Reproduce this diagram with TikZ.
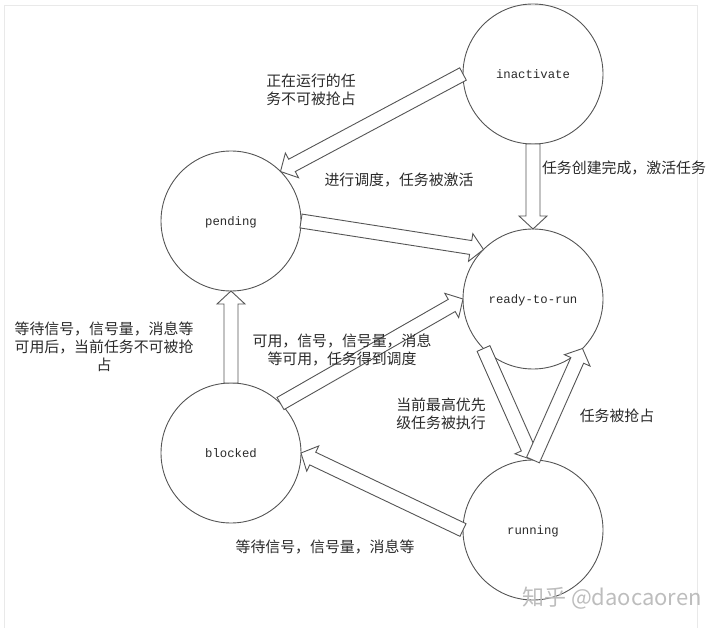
\documentclass[tikz,border=0pt]{standalone}
\usepackage{fontspec}
\setmainfont{Noto Sans CJK SC}
\newfontfamily\labelmono{Liberation Mono}
\usetikzlibrary{matrix,calc}
\definecolor{linecol}{HTML}{555555}
\definecolor{textcol}{HTML}{2A2A2A}
\definecolor{framecol}{HTML}{E9E9E9}
\definecolor{markcol}{HTML}{BDBDBD}
\tikzset{
  st/.style={circle, draw=linecol, line width=0.9pt, minimum size=140pt, inner sep=0pt, outer sep=0pt, at=#1},
  tx/.style={text=textcol, font=\fontsize{14.9}{18}\selectfont, align=center, inner sep=0pt},
  ar/.style={draw=linecol, line width=0.9pt, fill=white, to path={
    -- ($(\tikztostart)!7pt!90:(\tikztotarget)$)
    -- ($(\tikztotarget)!13pt!(\tikztostart)!7pt!90:(\tikztotarget)$)
    -- ($(\tikztotarget)!13pt!(\tikztostart)!14pt!90:(\tikztotarget)$)
    -- (\tikztotarget)
    -- ($(\tikztotarget)!13pt!(\tikztostart)!14pt!-90:(\tikztotarget)$)
    -- ($(\tikztotarget)!13pt!(\tikztostart)!7pt!-90:(\tikztotarget)$)
    -- ($(\tikztostart)!7pt!-90:(\tikztotarget)$)
    -- cycle}}
}
\begin{document}
\begin{tikzpicture}[x=1pt, y=-1pt]
  \useasboundingbox (0,0) rectangle (720,628);
  \draw[framecol, line width=0.8pt] (4,628) |- (697,5) -- (697,628);
  \matrix[matrix of nodes, row sep=0pt, column sep=212pt, inner sep=0pt, at={(382,302)},
    nodes={font=\labelmono\fontsize{12.3}{14}\selectfont, text=textcol, text width=90pt, align=center,
      text height=10.5pt, text depth=1.5pt, inner sep=0pt}] (mx) {
    & inactivate \\[135pt]
    pending & \\[66pt]
    & ready-to-run \\[142pt]
    blocked & \\[65pt]
    & running \\
  };
  \node[st=(mx-1-2)] (inactivate) {};
  \node[st=(mx-2-1)] (pending) {};
  \node[st=(mx-3-2)] (ready) {};
  \node[st=(mx-4-1)] (blocked) {};
  \node[st=(mx-5-2)] (running) {};
  \draw[ar] (inactivate.180) to (pending.45);
  \draw[ar] (inactivate.270) to (ready.90);
  \draw[ar] (pending.0) to (ready.135);
  \draw[ar] (blocked.90) to (pending.270);
  \draw[ar] (blocked.45) to (ready.180);
  \draw[ar] (running.180) to (blocked.0);
  \draw[ar] (ready.225) to (running.90);
  \draw[ar] (running.90) to (ready.315);
  % labels
  \node[tx] (preempt) at (311,90) {正在运行的任\\务不可被抢占};
  \node[tx] (sched) at (399,180) {进行调度，任务被激活};
  \node[tx] (created) at (624,168) {任务创建完成，激活任务};
  \node[tx] (waitdone) at (104,347) {等待信号，信号量，消息等\\可用后，当前任务不可被抢\\占};
  \node[tx] (avail) at (342,350) {可用，信号，信号量，消息\\等可用，任务得到调度};
  \node[tx] (highest) at (441,414) {当前最高优先\\级任务被执行};
  \node[tx] (taken) at (617,416) {任务被抢占};
  \node[tx] (wait) at (325,547) {等待信号，信号量，消息等};
  \node[text=markcol, font=\fontsize{22}{24}\selectfont, inner sep=0pt] (mark) at (612,598) {知乎 @daocaoren};
\end{tikzpicture}
\end{document}
